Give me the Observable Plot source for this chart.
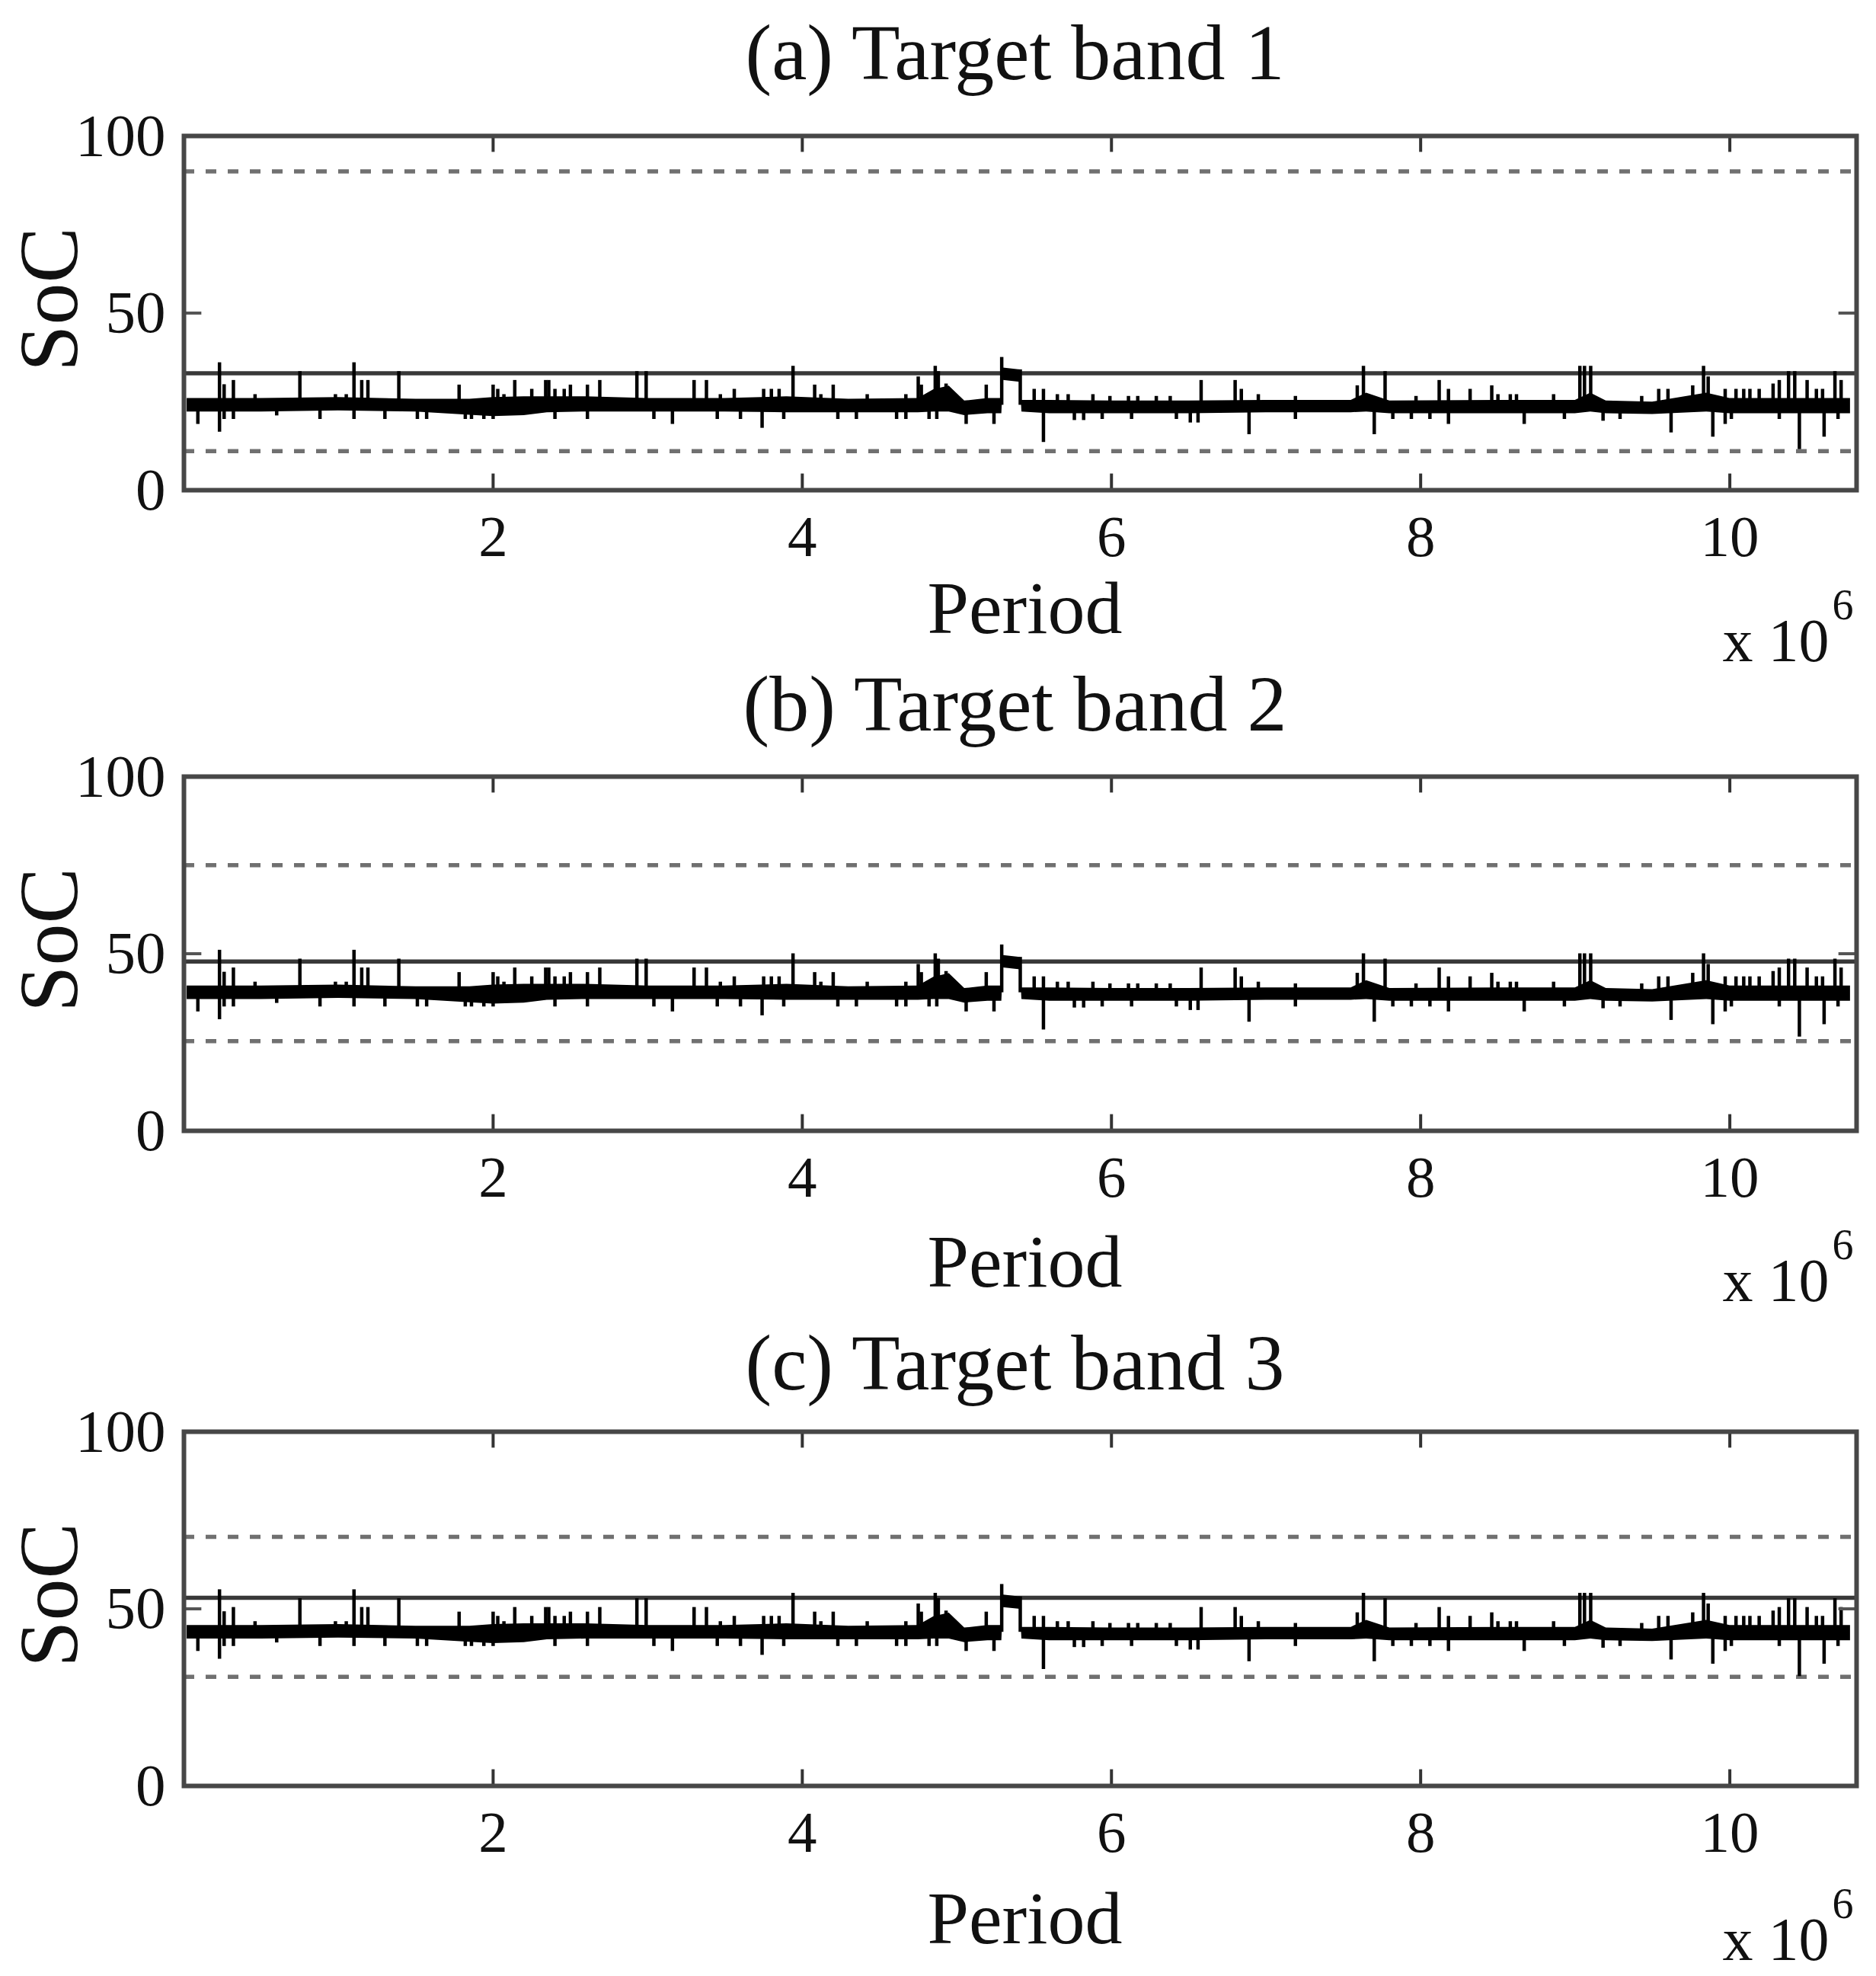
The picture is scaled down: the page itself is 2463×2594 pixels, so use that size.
<!DOCTYPE html>
<html>
<head>
<meta charset="utf-8">
<script src="https://cdn.jsdelivr.net/npm/d3@7"></script>
<script src="https://cdn.jsdelivr.net/npm/@observablehq/plot@0.6"></script>
<style>
  html, body { margin: 0; padding: 0; background: #fff; }
  #chart { position: relative; width: 2463px; height: 2594px; overflow: hidden; background: #fff; }
  #chart svg { position: absolute; left: 0; }
</style>
</head>
<body>
<div id="chart"></div>
<script>
// ---------- data ----------
const panelTitles = ["(a) Target band 1", "(b) Target band 2", "(c) Target band 3"];
const upperBand = [90, 75, 70.3];
const lowerBand = [11, 25.3, 30.8];
const solidLevel = [33, 47.8, 53.1];
const levelShift = [0, 15, 19.4];          // each panel's trace sits this much above panel (a)'s trace
const xTicks = [2, 4, 6, 8, 10];
const yTicks = [0, 50, 100];
const xDomain = [0, 10.82];                // Period, x 10^6

// core (thick) part of the SoC trace, panel (a)
const coreX  = [0.02, 0.5, 1.0, 1.5, 1.85, 2.0, 2.2, 2.35, 2.6, 3.0, 3.5, 3.9, 4.3, 4.75, 4.85, 4.95, 5.05, 5.2, 5.29, 5.30, 5.41, 5.42, 5.6, 6.0, 6.5, 7.0, 7.55, 7.65, 7.8, 8.5, 9.0, 9.1, 9.2, 9.5, 9.85, 10.0, 10.5, 10.78];
const coreLo = [22.1, 22.1, 22.4, 22.1, 21.2, 20.8, 21.1, 21.9, 22.1, 22.1, 22.1, 21.9, 21.9, 21.9, 22.1, 22.1, 21.1, 21.6, 21.6, 31, 30.5, 22.1, 21.6, 21.6, 21.6, 21.9, 21.9, 22.1, 21.6, 21.6, 21.6, 22.1, 21.6, 21.4, 22.1, 21.6, 21.6, 21.6];
const coreHi = [25.9, 25.9, 26.2, 25.7, 25.7, 26.2, 26.4, 26.4, 26.4, 25.9, 25.9, 26.4, 25.7, 25.9, 28.4, 29.4, 25.2, 25.9, 25.9, 34.5, 34, 25.4, 25.4, 25.2, 25.2, 25.4, 25.4, 27.4, 25.2, 25.4, 25.4, 27.4, 25.2, 24.9, 27.4, 25.9, 25.9, 25.9];
const coreMid = 24;

// upward excursions: position and peak, panel (a)
const upX   = [0.23, 0.26, 0.32, 0.46, 0.75, 0.98, 1.05, 1.10, 1.15, 1.19, 1.39, 1.78, 2.00, 2.03, 2.07, 2.14, 2.25, 2.34, 2.36, 2.40, 2.46, 2.50, 2.61, 2.69, 2.93, 2.99, 3.30, 3.38, 3.47, 3.56,
               3.75, 3.80, 3.85, 3.94, 4.08, 4.12, 4.20, 4.42, 4.67, 4.75, 4.77, 4.86, 4.88, 4.93, 5.19, 5.29, 5.41, 5.50, 5.56, 5.65, 5.72, 5.88, 5.99, 6.11, 6.17, 6.29, 6.38, 6.58, 6.80, 6.84, 6.95, 7.19,
               7.59, 7.63, 7.77, 7.97, 8.12, 8.18, 8.32, 8.46, 8.50, 8.58, 8.62, 8.86, 9.03, 9.06, 9.10, 9.43, 9.54, 9.60, 9.76, 9.83, 9.86, 9.97, 10.04, 10.09, 10.13, 10.19, 10.28, 10.32, 10.38, 10.42, 10.50, 10.56, 10.60, 10.68, 10.72];
const upTop = [36, 29.8, 31, 27, 33.5, 27, 27, 36, 31, 31, 33.5, 29.7, 29.7, 28.5, 27, 31, 28.5, 31, 31, 28.5, 28.5, 29.7, 29.7, 31, 33.5, 33.5, 31, 31, 27, 28.5,
               28.5, 28.5, 28.5, 35, 29.7, 27, 29.7, 27, 27, 32, 29.7, 35, 33.5, 30, 29.7, 37.5, 34, 28.5, 28.5, 27, 27, 27, 26.5, 26.5, 26.5, 26.5, 26.5, 31, 31, 28.5, 27, 26.5,
               29.5, 35, 33.5, 26.5, 31, 28.5, 28.5, 29.5, 27, 27, 27, 27, 35, 35, 35, 26.5, 28.5, 28.5, 29.5, 35, 32, 28.5, 28.5, 28.5, 28.5, 28.5, 30, 31, 33.5, 33.5, 31, 28.5, 28.5, 33.5, 31];

// downward excursions: position and trough, panel (a)
const downX   = [0.09, 0.23, 0.26, 0.32, 0.60, 0.88, 1.10, 1.30, 1.51, 1.57, 1.82, 1.86, 1.94, 2.00, 2.40, 2.61, 3.04, 3.16, 3.45, 3.60,
                 3.74, 3.88, 4.23, 4.35, 4.61, 4.67, 4.82, 4.87, 5.06, 5.24, 5.56, 5.76, 5.82, 5.94, 6.13, 6.42, 6.51, 6.56, 6.89, 7.19,
                 7.70, 7.82, 7.94, 8.06, 8.18, 8.67, 8.93, 9.18, 9.29, 9.62, 9.89, 9.97, 10.01, 10.32, 10.45, 10.61, 10.70];
const downLow = [18.6, 16.4, 20, 20, 21, 20, 20, 20, 20, 20, 20, 20, 20, 20, 20, 20, 20, 18.6, 20, 20,
                 17.5, 20, 20, 20, 20, 20, 20, 20, 18.6, 18.6, 13.5, 19.7, 19.7, 20, 20, 20, 19, 19, 15.7, 20,
                 15.7, 20, 20, 20, 18.6, 18.6, 20, 19.5, 20, 16.2, 15, 18.6, 20, 20, 11.5, 15, 20];

// ---------- layout ----------
const frameTops = [178, 1019, 1879];
const titleGap = [75, 61, 56];
const periodOffset = [187, 204, 206];
const expOffset = [224, 223, 228];
const M = {top: 178, bottom: 262, left: 241, right: 26};
const innerH = 465;
const FONT = "'Liberation Serif', 'Times New Roman', serif";
const INK = "#111";

const core = coreX.map((x, i) => ({x, lo: coreLo[i], hi: coreHi[i]}));
const ups = upX.map((x, i) => ({x, top: upTop[i]}));
const downs = downX.map((x, i) => ({x, low: downLow[i]}));

const chart = document.getElementById("chart");

panelTitles.forEach((title, p) => {
  const s = levelShift[p];
  const svg = Plot.plot({
    width: 2463,
    height: M.top + innerH + M.bottom,
    marginTop: M.top, marginBottom: M.bottom, marginLeft: M.left, marginRight: M.right,
    style: {background: "transparent", fontFamily: FONT, color: INK, overflow: "visible"},
    x: {domain: xDomain, axis: null},
    y: {domain: [0, 100], axis: null},
    marks: [
      Plot.ruleY([upperBand[p], lowerBand[p]], {stroke: "#707070", strokeWidth: 5.5, strokeDasharray: "14,15"}),
      Plot.ruleY([solidLevel[p]], {stroke: "#383838", strokeWidth: 5.5}),
      Plot.areaY(core, {x: "x", y1: d => d.lo + s, y2: d => d.hi + s, fill: "#000"}),
      Plot.ruleX(ups, {x: "x", y1: coreMid + s, y2: d => d.top + s, stroke: "#000", strokeWidth: 4.5}),
      Plot.ruleX(downs, {x: "x", y1: coreMid + s, y2: d => d.low + s, stroke: "#000", strokeWidth: 4.5}),
      // inward ticks
      Plot.ruleX(xTicks, {x: d => d, y1: 0, y2: 4.6, stroke: "#333", strokeWidth: 4}),
      Plot.ruleX(xTicks, {x: d => d, y1: 95.4, y2: 100, stroke: "#333", strokeWidth: 4}),
      Plot.ruleY([50], {y: d => d, x1: xDomain[0], x2: xDomain[0] + 0.115, stroke: "#555", strokeWidth: 4}),
      Plot.ruleY([50], {y: d => d, x1: xDomain[1] - 0.115, x2: xDomain[1], stroke: "#555", strokeWidth: 4}),
      Plot.frame({stroke: "#474747", strokeWidth: 6}),
      // tick labels
      Plot.text(xTicks, {x: d => d, text: d => String(d), frameAnchor: "bottom", lineAnchor: "bottom", dy: 86, fontSize: 77, fill: INK}),
      Plot.text(yTicks, {y: d => d, text: d => String(d), frameAnchor: "left", textAnchor: "end", lineAnchor: "middle", dx: -24, fontSize: 79, fill: INK}),
      // title
      Plot.text([title], {text: d => d, frameAnchor: "top", lineAnchor: "bottom", dy: -titleGap[p], dx: -7, fontSize: 104, fill: INK}),
      // axis labels
      Plot.text(["Period"], {text: d => d, frameAnchor: "bottom", lineAnchor: "bottom", dy: periodOffset[p], dx: 6, fontSize: 98, fill: INK}),
      Plot.text(["SoC"], {text: d => d, frameAnchor: "left", rotate: -90, lineAnchor: "middle", textAnchor: "middle", dx: -176, dy: -18, fontSize: 110, fill: INK}),
      Plot.text(["x 10"], {text: d => d, frameAnchor: "bottom-right", textAnchor: "end", lineAnchor: "bottom", dx: -36, dy: expOffset[p], fontSize: 80, fill: INK}),
      Plot.text(["6"], {text: d => d, frameAnchor: "bottom-right", textAnchor: "start", lineAnchor: "bottom", dx: -32, dy: expOffset[p] - 55, fontSize: 56, fill: INK})
    ]
  });
  svg.style.top = (frameTops[p] - M.top) + "px";
  chart.appendChild(svg);
});
</script>
</body>
</html>
